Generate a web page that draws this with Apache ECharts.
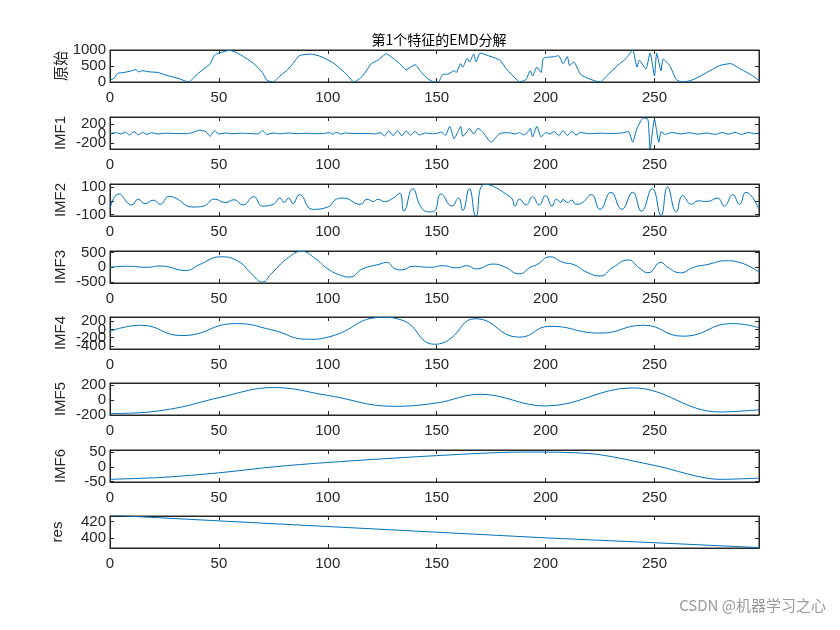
<!DOCTYPE html>
<html><head><meta charset="utf-8">
<script src="https://cdn.jsdelivr.net/npm/echarts@6/dist/echarts.min.js"></script>
<style>html,body{margin:0;background:#fff}#c{width:840px;height:630px}</style>
</head><body><div id="c"></div>
<script>
const xTicks=[0,50,100,150,200,250];
const names=['原始','IMF1','IMF2','IMF3','IMF4','IMF5','IMF6','res'];
const yTicks=[[0,500,1000],[-200,0,200],[-100,0,100],[-500,0,500],[-400,-200,0,200],[-200,0,200],[-50,0,50],[400,420]];
const yRange=[[0,1010],[-330,350],[-110,122],[-540,560],[-475,300],[-200,225],[-51,57],[387.5,427]];
const orig=[[0,55],[2,130],[3.4,270],[6.5,300],[10,355],[12,390],[13,320],[15,355],[18,320],[22,300],[26,210],[32,100],[36,0],[40,245],[46,580],[48,850],[50,910],[55,1000],[60,855],[66,580],[70,300],[72,55],[75,0],[78,190],[81,355],[84,580],[87,830],[92,880],[97,800],[103,580],[109,210],[112,0],[116,190],[120,580],[123,690],[127,890],[130,745],[133,580],[136,390],[140,545],[143,300],[146,100],[149,0],[151,20],[153,245],[155,245],[158,355],[159,300],[161,580],[162,470],[164,745],[165,630],[167,880],[168,630],[170,910],[175,800],[179,690],[182,410],[187,55],[188,0],[191,80],[193,355],[194,190],[196,470],[198,300],[199,745],[204,800],[206,830],[208,580],[210,800],[211,520],[213,630],[216,245],[220,100],[225,0],[228,190],[233,520],[237,745],[240,1000],[242,470],[243,690],[246,410],[248,910],[250,190],[251,910],[253,355],[254,725],[257,520],[260,80],[263,0],[268,80],[274,300],[280,520],[285,580],[288,470],[291,355],[294,245],[298,55]];
const imf1=[[0,0],[3,15],[5,-10],[7,30],[9,-35],[11,40],[13,-30],[15,25],[17,-20],[19,15],[22,-10],[25,5],[30,0],[35,-5],[38,20],[41,70],[44,40],[46,-60],[48,60],[50,-10],[53,10],[56,-5],[60,5],[64,0],[68,-10],[70,60],[72,-20],[75,10],[78,-5],[82,10],[86,-5],[90,5],[94,-5],[98,0],[101,20],[102,-20],[104,25],[106,-15],[108,10],[112,0],[118,0],[122,-10],[124,20],[126,-50],[128,55],[130,-45],[132,60],[134,-50],[136,55],[138,-40],[140,45],[142,-30],[145,10],[148,-5],[150,0],[152,30],[154,-40],[156,150],[158,-110],[160,60],[161,150],[162,-60],[164,40],[165,110],[167,-15],[169,110],[171,40],[175,-185],[179,0],[183,15],[186,-10],[188,20],[190,-30],[192,40],[193,110],[194,-75],[196,150],[198,-75],[200,20],[202,-10],[204,45],[206,-50],[208,60],[210,-45],[212,50],[214,-35],[216,20],[220,-5],[225,5],[230,0],[235,10],[238,40],[240,-185],[242,110],[245,330],[247,300],[248,-330],[250,300],[252,-185],[253,35],[255,-20],[258,20],[262,-10],[266,15],[270,-15],[274,10],[278,-20],[281,20],[284,-15],[287,25],[290,-20],[293,20],[296,-5],[298,10]];
const imf2=[[0,-55],[4,50],[10,-30],[13,12],[16,-20],[20,5],[23,-25],[27,32],[30,20],[38,-45],[43,-38],[48,12],[53,-12],[57,8],[61,-30],[66,30],[70,-38],[75,-25],[78,20],[80,-12],[82,20],[84,-20],[87,45],[93,-62],[100,-45],[104,12],[107,20],[115,-25],[118,12],[121,-5],[123,12],[126,-5],[130,20],[133,55],[135,-75],[139,88],[143,-50],[147,-80],[149,-75],[152,50],[157,-38],[160,20],[162,-70],[165,88],[168,-112],[172,120],[184,25],[186,-38],[188,12],[191,-30],[194,30],[197,-30],[200,38],[203,-38],[205,12],[207,-12],[208,10],[210,-12],[212,5],[214,-25],[217,-12],[221,45],[225,-62],[230,62],[235,-62],[240,62],[244,-75],[249,88],[253,-105],[256,100],[260,-80],[263,38],[267,-25],[270,0],[274,-5],[279,20],[282,-38],[286,45],[289,-25],[292,62],[298,-62]];
const imf3=[[0,0],[8,35],[17,0],[23,45],[35,-110],[41,90],[51,360],[59,200],[65,-225],[70,-505],[74,-225],[82,340],[88,545],[94,315],[100,-55],[106,-280],[110,-335],[116,-55],[124,112],[127,170],[131,-55],[134,-90],[139,35],[147,0],[153,55],[159,-20],[164,55],[168,-55],[176,112],[181,20],[188,-225],[193,0],[196,90],[202,360],[208,170],[213,90],[219,-170],[225,-300],[231,0],[238,250],[243,-20],[247,-190],[253,170],[256,0],[262,-190],[268,0],[274,90],[283,225],[289,170],[298,-170]];
const imf4=[[0,-50],[14,100],[33,-150],[58,140],[74,-8],[91,-240],[101,-175],[125,290],[134,225],[149,-360],[152,-340],[156,-235],[168,260],[188,-190],[202,75],[225,-90],[245,100],[263,-165],[286,140],[298,40]];
const imf5=[[0,-180],[10,-175],[30,-110],[50,30],[75,165],[100,60],[130,-85],[150,-40],[170,75],[200,-80],[240,160],[280,-160],[298,-130]];
const imf6=[[0,-42],[25,-35],[50,-20],[75,0],[100,15],[150,38],[190,50],[220,45],[250,5],[280,-42],[298,-38]];
const res=[[0,428],[50,421],[100,414],[150,407],[200,400],[250,394],[298,388]];
const seriesData=[orig,imf1,imf2,imf3,imf4,imf5,imf6,res];
const smoothness=[0.2,0.2,0.5,0.5,0.5,0.4,0.3,0];
const tops=[50,117,184,251,317,383,450,516];
const ink='#262626';const font='Liberation Sans';
const grid=[],xAxis=[],yAxis=[],series=[];
tops.forEach((t,i)=>{
  grid.push({left:110,width:649,top:t,height:32,show:true,borderColor:ink,borderWidth:1,backgroundColor:'#fff'});
  const xb={gridIndex:i,type:'value',min:0,max:298,interval:50,splitLine:{show:false},axisLine:{show:true,onZero:false,lineStyle:{color:ink}}};
  xAxis.push(Object.assign({},xb,{position:'bottom',axisTick:{inside:true,length:4,lineStyle:{color:ink}},axisLabel:{color:ink,fontFamily:font,fontSize:15,margin:8,showMaxLabel:false,formatter:v=>v>=298?'':String(v)}}));
  xAxis.push(Object.assign({},xb,{position:'top',axisTick:{inside:true,length:4,lineStyle:{color:ink}},axisLabel:{show:false}}));
  const yb={gridIndex:i,type:'value',min:yRange[i][0],max:yRange[i][1],splitLine:{show:false},axisLine:{show:true,onZero:false,lineStyle:{color:ink}}};
  const lab=vals=>({color:ink,fontFamily:font,fontSize:15,margin:4,hideOverlap:false,showMinLabel:true,showMaxLabel:true,customValues:vals,formatter:v=>String(v)});
  const base=yAxis.length;
  yAxis.push(Object.assign({},yb,{position:'left',name:names[i],nameLocation:'middle',nameGap:i==7?45:42,nameRotate:90,
    nameTextStyle:{color:ink,fontFamily:i==0?'Noto Sans CJK SC':font,fontSize:15},
    axisTick:{inside:true,length:4,customValues:yTicks[i],lineStyle:{color:ink}},
    axisLabel:{show:false}}));
  yAxis.push(Object.assign({},yb,{position:'right',axisTick:{inside:true,length:4,customValues:yTicks[i],lineStyle:{color:ink}},axisLabel:{show:false}}));
  yTicks[i].forEach(v=>yAxis.push(Object.assign({},yb,{position:'left',axisLine:{show:false,onZero:false},axisTick:{show:false},axisLabel:lab([v])})));
  series.push({type:'line',xAxisIndex:2*i,yAxisIndex:base,data:seriesData[i],smooth:smoothness[i],showSymbol:false,lineStyle:{color:'#0072BD',width:1},clip:true,animation:false});
});
const chart=echarts.init(document.getElementById('c'));
chart.setOption({animation:false,
  title:{text:'第1个特征的EMD分解',left:434,top:28,textAlign:'center',textStyle:{fontFamily:'Noto Sans CJK SC',fontSize:14,fontWeight:'normal',color:'#000'}},
  grid,xAxis,yAxis,series,
  graphic:[{type:'text',right:14,top:598,style:{text:'CSDN @机器学习之心',fill:'#999',font:'15px "Noto Sans CJK SC"'}}]
});
</script></body></html>
